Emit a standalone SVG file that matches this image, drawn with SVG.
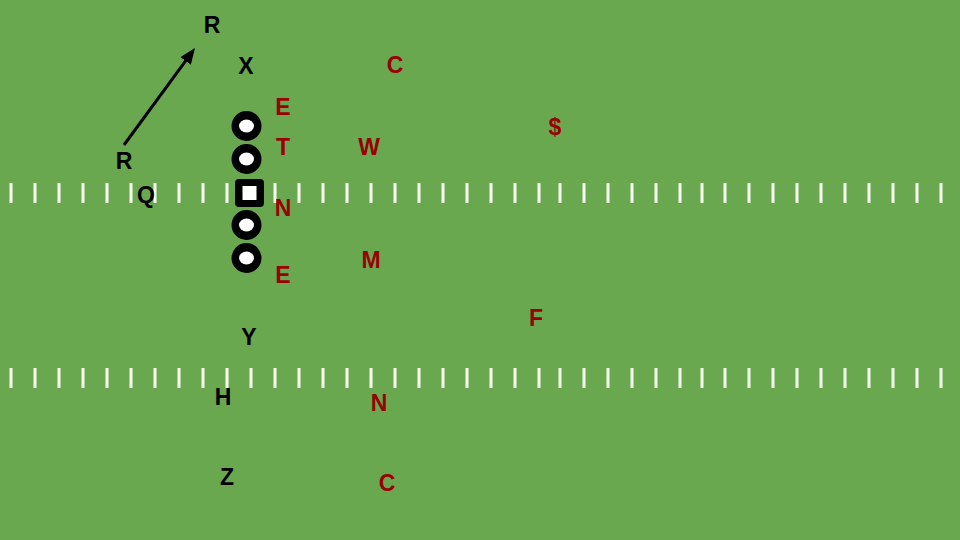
<svg xmlns="http://www.w3.org/2000/svg" width="960" height="540" viewBox="0 0 960 540">
<defs>
<style>
.t{font-family:"Liberation Sans",Arial,sans-serif;font-weight:bold;font-size:23px;text-anchor:middle}
.o{fill:#000000}
.d{fill:#990000}
.h{stroke:#f7fdee;stroke-width:3}
</style>
<marker id="ah" markerWidth="16" markerHeight="13" refX="6" refY="6.5" orient="auto" markerUnits="userSpaceOnUse">
<path d="M0,0 L16,6.5 L0,13 Z" fill="#000"/>
</marker>
</defs>
<rect width="960" height="540" fill="#6aa84f"/>
<g id="hashes">
<g id="hash-top" class="h">
<path d="M11,183V203M35,183V203M59,183V203M83,183V203M107,183V203M131,183V203M155,183V203M179,183V203M203,183V203M227,183V203M251,183V203M275,183V203M299,183V203M323,183V203M347,183V203M371,183V203M395,183V203M419,183V203M443,183V203M467,183V203M491,183V203M515,183V203M539,183V203M560,183V203M584,183V203M608,183V203M632,183V203M656,183V203M680,183V203M702,183V203M725,183V203M749,183V203M773,183V203M797,183V203M821,183V203M845,183V203M869,183V203M893,183V203M917,183V203M941,183V203"/>
</g>
<g id="hash-bottom" class="h">
<path d="M11,368V388M35,368V388M59,368V388M83,368V388M107,368V388M131,368V388M155,368V388M179,368V388M203,368V388M227,368V388M251,368V388M275,368V388M299,368V388M323,368V388M347,368V388M371,368V388M395,368V388M419,368V388M443,368V388M467,368V388M491,368V388M515,368V388M539,368V388M560,368V388M584,368V388M608,368V388M632,368V388M656,368V388M680,368V388M702,368V388M725,368V388M749,368V388M773,368V388M797,368V388M821,368V388M845,368V388M869,368V388M893,368V388M917,368V388M941,368V388"/>
</g>
</g>
<g id="connectors">
<line x1="124" y1="145" x2="189.1" y2="56.1" stroke="#000" stroke-width="3" marker-end="url(#ah)"/>
</g>
<g id="lineman-1"><circle cx="246.5" cy="126" r="15" fill="#000"/><ellipse cx="246.5" cy="126" rx="7.5" ry="6.5" fill="#fff"/></g>
<g id="lineman-2"><circle cx="246.5" cy="159" r="15" fill="#000"/><ellipse cx="246.5" cy="159" rx="7.5" ry="6.5" fill="#fff"/></g>
<g id="center"><rect x="235" y="179" width="29" height="28" rx="4" fill="#000"/><rect x="242.5" y="186" width="14" height="14" fill="#fff"/></g>
<g id="lineman-3"><circle cx="246.5" cy="225" r="15" fill="#000"/><ellipse cx="246.5" cy="225" rx="7.5" ry="6.5" fill="#fff"/></g>
<g id="lineman-4"><circle cx="246.5" cy="258" r="15" fill="#000"/><ellipse cx="246.5" cy="258" rx="7.5" ry="6.5" fill="#fff"/></g>
<g id="off-R-top"><text class="t o" x="212" y="33">R</text></g>
<g id="off-X"><text class="t o" x="246" y="74">X</text></g>
<g id="off-R"><text class="t o" x="124" y="169">R</text></g>
<g id="off-Q"><text class="t o" x="146" y="203">Q</text></g>
<g id="off-Y"><text class="t o" x="249" y="345">Y</text></g>
<g id="off-H"><text class="t o" x="223" y="405">H</text></g>
<g id="off-Z"><text class="t o" x="227" y="485">Z</text></g>
<g id="def-C-top"><text class="t d" x="395" y="73">C</text></g>
<g id="def-E-top"><text class="t d" x="283" y="115">E</text></g>
<g id="def-dollar"><text class="t d" x="555" y="135">$</text></g>
<g id="def-T"><text class="t d" x="283" y="155">T</text></g>
<g id="def-W"><text class="t d" x="369" y="155">W</text></g>
<g id="def-N-top"><text class="t d" x="283" y="216">N</text></g>
<g id="def-M"><text class="t d" x="371" y="268">M</text></g>
<g id="def-E-bottom"><text class="t d" x="283" y="283">E</text></g>
<g id="def-F"><text class="t d" x="536" y="326">F</text></g>
<g id="def-N-bottom"><text class="t d" x="379" y="411">N</text></g>
<g id="def-C-bottom"><text class="t d" x="387" y="491">C</text></g>
</svg>
